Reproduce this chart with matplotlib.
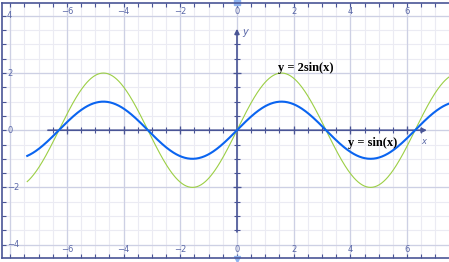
import numpy as np
import matplotlib
matplotlib.use("Agg")
import matplotlib.pyplot as plt

# datos de la grafica
amplitudes = [2, 1]
curve_labels = ["y = 2sin(x)", "y = sin(x)"]
curve_colors = ["#9ccf45", "#0a64f0"]
curve_widths = [0.8, 1.5]
x_start, x_end = -7.4, 7.6
label_pos = [(1.45, 2.18), (3.92, -0.45)]

major_ticks = [-6, -4, -2, 0, 2, 4, 6]
y_major_ticks = [4, 2, 0, -2, -4]
tick_step = 0.5

xlim = (-8.29, 7.48)
ylim = (-4.47, 4.45)
axis_color = "#4a5596"
label_color = "#5a68a8"

fig = plt.figure(figsize=(4.49, 2.62), dpi=100)
ax = fig.add_axes([2 / 449, 4 / 262, 447 / 449, 255 / 262])
ax.set_xlim(*xlim)
ax.set_ylim(*ylim)

# rejilla
minor = np.arange(-9, 9.01, tick_step)
for v in minor:
    ax.axvline(v, color="#ebebf3", lw=0.8, zorder=0)
    ax.axhline(v, color="#ebebf3", lw=0.8, zorder=0)
for v in np.arange(-8, 9, 2):
    ax.axvline(v, color="#cdd0e4", lw=0.9, zorder=0.5)
    ax.axhline(v, color="#cdd0e4", lw=0.9, zorder=0.5)

# marco
for s in ["right"]:
    ax.spines[s].set_visible(False)
for s in ["left", "top", "bottom"]:
    ax.spines[s].set_color(axis_color)
    ax.spines[s].set_linewidth(1.2)
ax.set_xticks(np.arange(-8, 7.5, tick_step))
ax.set_yticks(np.arange(-4, 4.5, tick_step))
ax.tick_params(direction="in", length=3, color=axis_color, width=0.8,
               top=True, bottom=True, left=True, right=False,
               labelbottom=False, labelleft=False)

fs = 6
for v in major_ticks:
    txt = str(v).replace("-", "\u2212")
    ax.text(v, ylim[1] - 0.28, txt, ha="center", va="center",
            fontsize=fs, color=label_color)
    ax.text(v, ylim[0] + 0.28, txt, ha="center", va="center",
            fontsize=fs, color=label_color)
for v in y_major_ticks:
    txt = str(v).replace("-", "\u2212")
    ax.text(xlim[0] + 0.18, v, txt, ha="left", va="center",
            fontsize=fs, color=label_color)

# ejes principales
ax.annotate("", xy=(6.7, 0), xytext=(-6.67, 0),
            arrowprops=dict(arrowstyle="-|>", color=axis_color, lw=1.2,
                            mutation_scale=7, shrinkA=0, shrinkB=0))
ax.annotate("", xy=(0, 3.55), xytext=(0, -3.56),
            arrowprops=dict(arrowstyle="-|>", color=axis_color, lw=1.2,
                            mutation_scale=7, shrinkA=0, shrinkB=0))
xt = np.arange(-6.5, 6.6, tick_step)
yt = np.arange(-3.5, 3.4, tick_step)
xt = xt[xt != 0]
yt = yt[yt != 0]
big_x = [t for t in xt if t % 2 == 0]
big_y = [t for t in yt if t % 2 == 0]
ax.plot(xt, np.zeros_like(xt), "|", color=axis_color, ms=4, mew=0.8)
ax.plot(big_x, np.zeros(len(big_x)), "|", color=axis_color, ms=6, mew=0.9)
ax.plot(np.zeros_like(yt), yt, "_", color=axis_color, ms=4, mew=0.8)
ax.plot(np.zeros(len(big_y)), big_y, "_", color=axis_color, ms=6, mew=0.9)
ax.text(6.6, -0.22, "x", style="italic", fontsize=6, color=label_color,
        ha="center", va="top")
ax.text(0.17, 3.45, "y", style="italic", fontsize=7, color=label_color,
        ha="left", va="center")
ax.text(0.2, 0.06, "", fontsize=6)

# curvas
x = np.linspace(x_start, x_end, 600)
for a, c, w in zip(amplitudes, curve_colors, curve_widths):
    ax.plot(x, a * np.sin(x), color=c, lw=w, zorder=3)

for (lx, ly), lab in zip(label_pos, curve_labels):
    ax.text(lx, ly, lab, family="Liberation Serif", weight="bold",
            fontsize=9, color="black", ha="left", va="center", zorder=5)

# marcadores pequeños arriba y abajo
ax.plot([0], [ylim[1] + 0.03], "s", color="#8fb4f0", ms=4, clip_on=False)
ax.plot([0], [ylim[0] - 0.05], "v", color="#8fb4f0", ms=4, clip_on=False)

fig.savefig("out.png", dpi=100)
